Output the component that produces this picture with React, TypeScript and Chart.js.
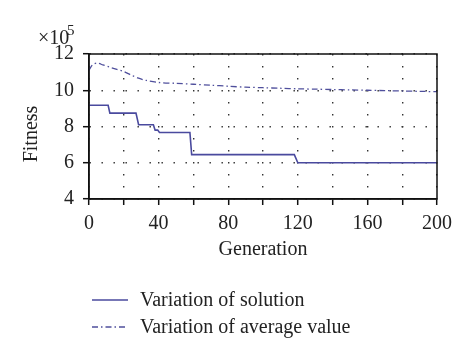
import React, { useEffect, useRef } from 'react';
import { Chart, registerables } from 'chart.js';
Chart.register(...registerables);

// Fitness values are in units of 10^5
const solutionGen = [0, 11, 12, 27, 28.5, 37, 38, 39.5, 40.5, 58, 59, 118, 120, 200];
const solutionVal = [9.17, 9.17, 8.74, 8.74, 8.1, 8.1, 7.8, 7.8, 7.67, 7.67, 6.45, 6.45, 6.0, 6.0];

const averageGen = [0, 2, 4.5, 8, 12, 16, 20, 24, 28, 33, 40, 50, 60, 70, 80, 90, 100, 110, 120, 130, 140, 150, 160, 170, 180, 190, 200];
const averageVal = [11.1, 11.4, 11.5, 11.4, 11.27, 11.15, 11.03, 10.85, 10.68, 10.54, 10.43, 10.38, 10.33, 10.28, 10.22, 10.17, 10.14, 10.11, 10.08, 10.06, 10.04, 10.02, 10.0, 9.98, 9.96, 9.94, 9.92];

const seriesNames = ['Variation of solution', 'Variation of average value'];
const xAxisTitle = 'Generation';
const yAxisTitle = 'Fitness';
const xMin = 0, xMax = 200, xStep = 20, xLabelStep = 40;
const yMin = 4, yMax = 12, yStep = 2;

const FONT = '"Liberation Serif", "Times New Roman", serif';
const LINE_COLOR = '#4a4a9e';
const AVG_COLOR = '#4f4f9c';

export default function App() {
  const ref = useRef<HTMLCanvasElement | null>(null);
  useEffect(() => {
    document.body.style.margin = '0';
    const canvas = ref.current!;
    const overlay = {
      id: 'overlay',
      afterDraw(chart: any) {
        const { ctx, chartArea: a } = chart;
        ctx.save();
        // frame
        ctx.strokeStyle = '#111';
        ctx.lineWidth = 1.5;
        ctx.setLineDash([]);
        ctx.strokeRect(a.left, a.top, a.right - a.left, a.bottom - a.top);
        // multiplier
        ctx.fillStyle = '#222';
        ctx.textAlign = 'left';
        ctx.textBaseline = 'alphabetic';
        ctx.font = `20px ${FONT}`;
        ctx.fillText('×10', 38, 44);
        ctx.font = `15px ${FONT}`;
        ctx.fillText('5', 67, 35);
        // axis titles
        ctx.font = `20px ${FONT}`;
        ctx.textAlign = 'center';
        ctx.textBaseline = 'middle';
        ctx.fillText(xAxisTitle, (a.left + a.right) / 2, 250);
        ctx.save();
        ctx.translate(32, 134);
        ctx.rotate(-Math.PI / 2);
        ctx.fillText(yAxisTitle, 0, 0);
        ctx.restore();
        // legend
        const ds = chart.data.datasets;
        const rows = [300, 327];
        ds.forEach((d: any, i: number) => {
          const y = rows[i];
          ctx.strokeStyle = d.borderColor;
          ctx.lineWidth = d.borderWidth;
          ctx.setLineDash(d.borderDash || []);
          ctx.beginPath();
          ctx.moveTo(92, y);
          ctx.lineTo(128, y);
          ctx.stroke();
          ctx.setLineDash([]);
          ctx.fillStyle = '#222';
          ctx.font = `20px ${FONT}`;
          ctx.textAlign = 'left';
          ctx.textBaseline = 'alphabetic';
          ctx.fillText(d.label, 140, y + 6);
        });
        ctx.restore();
      },
    };
    const gridCommon = {
      color: '#333',
      lineWidth: 1.4,
      drawTicks: true,
      tickLength: 6,
      tickColor: '#111',
      tickWidth: 1.5,
      tickBorderDash: [],
    };
    const borderCommon = { display: true, color: '#111', width: 1.5, dash: [1.4, 10.6] };
    const chart = new Chart(canvas, {
      type: 'line',
      data: {
        datasets: [
          {
            label: seriesNames[0],
            data: solutionGen.map((g, i) => ({ x: g, y: solutionVal[i] })),
            borderColor: LINE_COLOR,
            borderWidth: 1.6,
            pointRadius: 0,
            tension: 0,
          },
          {
            label: seriesNames[1],
            data: averageGen.map((g, i) => ({ x: g, y: averageVal[i] })),
            borderColor: AVG_COLOR,
            borderWidth: 1.3,
            borderDash: [6, 3, 1.5, 3],
            pointRadius: 0,
            tension: 0.3,
          },
        ],
      },
      options: {
        animation: false,
        responsive: false,
        layout: { padding: { left: 0, right: 37, top: 54, bottom: 125 } },
        plugins: { legend: { display: false }, tooltip: { enabled: false } },
        scales: {
          x: {
            type: 'linear',
            min: xMin,
            max: xMax,
            afterFit: (s: any) => { s.height = 40; },
            grid: gridCommon,
            border: borderCommon,
            ticks: {
              stepSize: xStep,
              autoSkip: false,
              maxRotation: 0,
              padding: 7,
              color: '#222',
              font: { family: FONT, size: 20 },
              callback: (v: any) => (Number(v) % xLabelStep === 0 ? String(v) : ''),
            },
          },
          y: {
            type: 'linear',
            min: yMin,
            max: yMax,
            afterFit: (s: any) => { s.width = 89; },
            grid: gridCommon,
            border: borderCommon,
            ticks: {
              stepSize: yStep,
              padding: 9,
              color: '#222',
              font: { family: FONT, size: 20 },
            },
          },
        },
      },
      plugins: [overlay],
    } as any);
    return () => chart.destroy();
  }, []);
  return <canvas ref={ref} width={474} height={364} style={{ display: 'block' }} />;
}
